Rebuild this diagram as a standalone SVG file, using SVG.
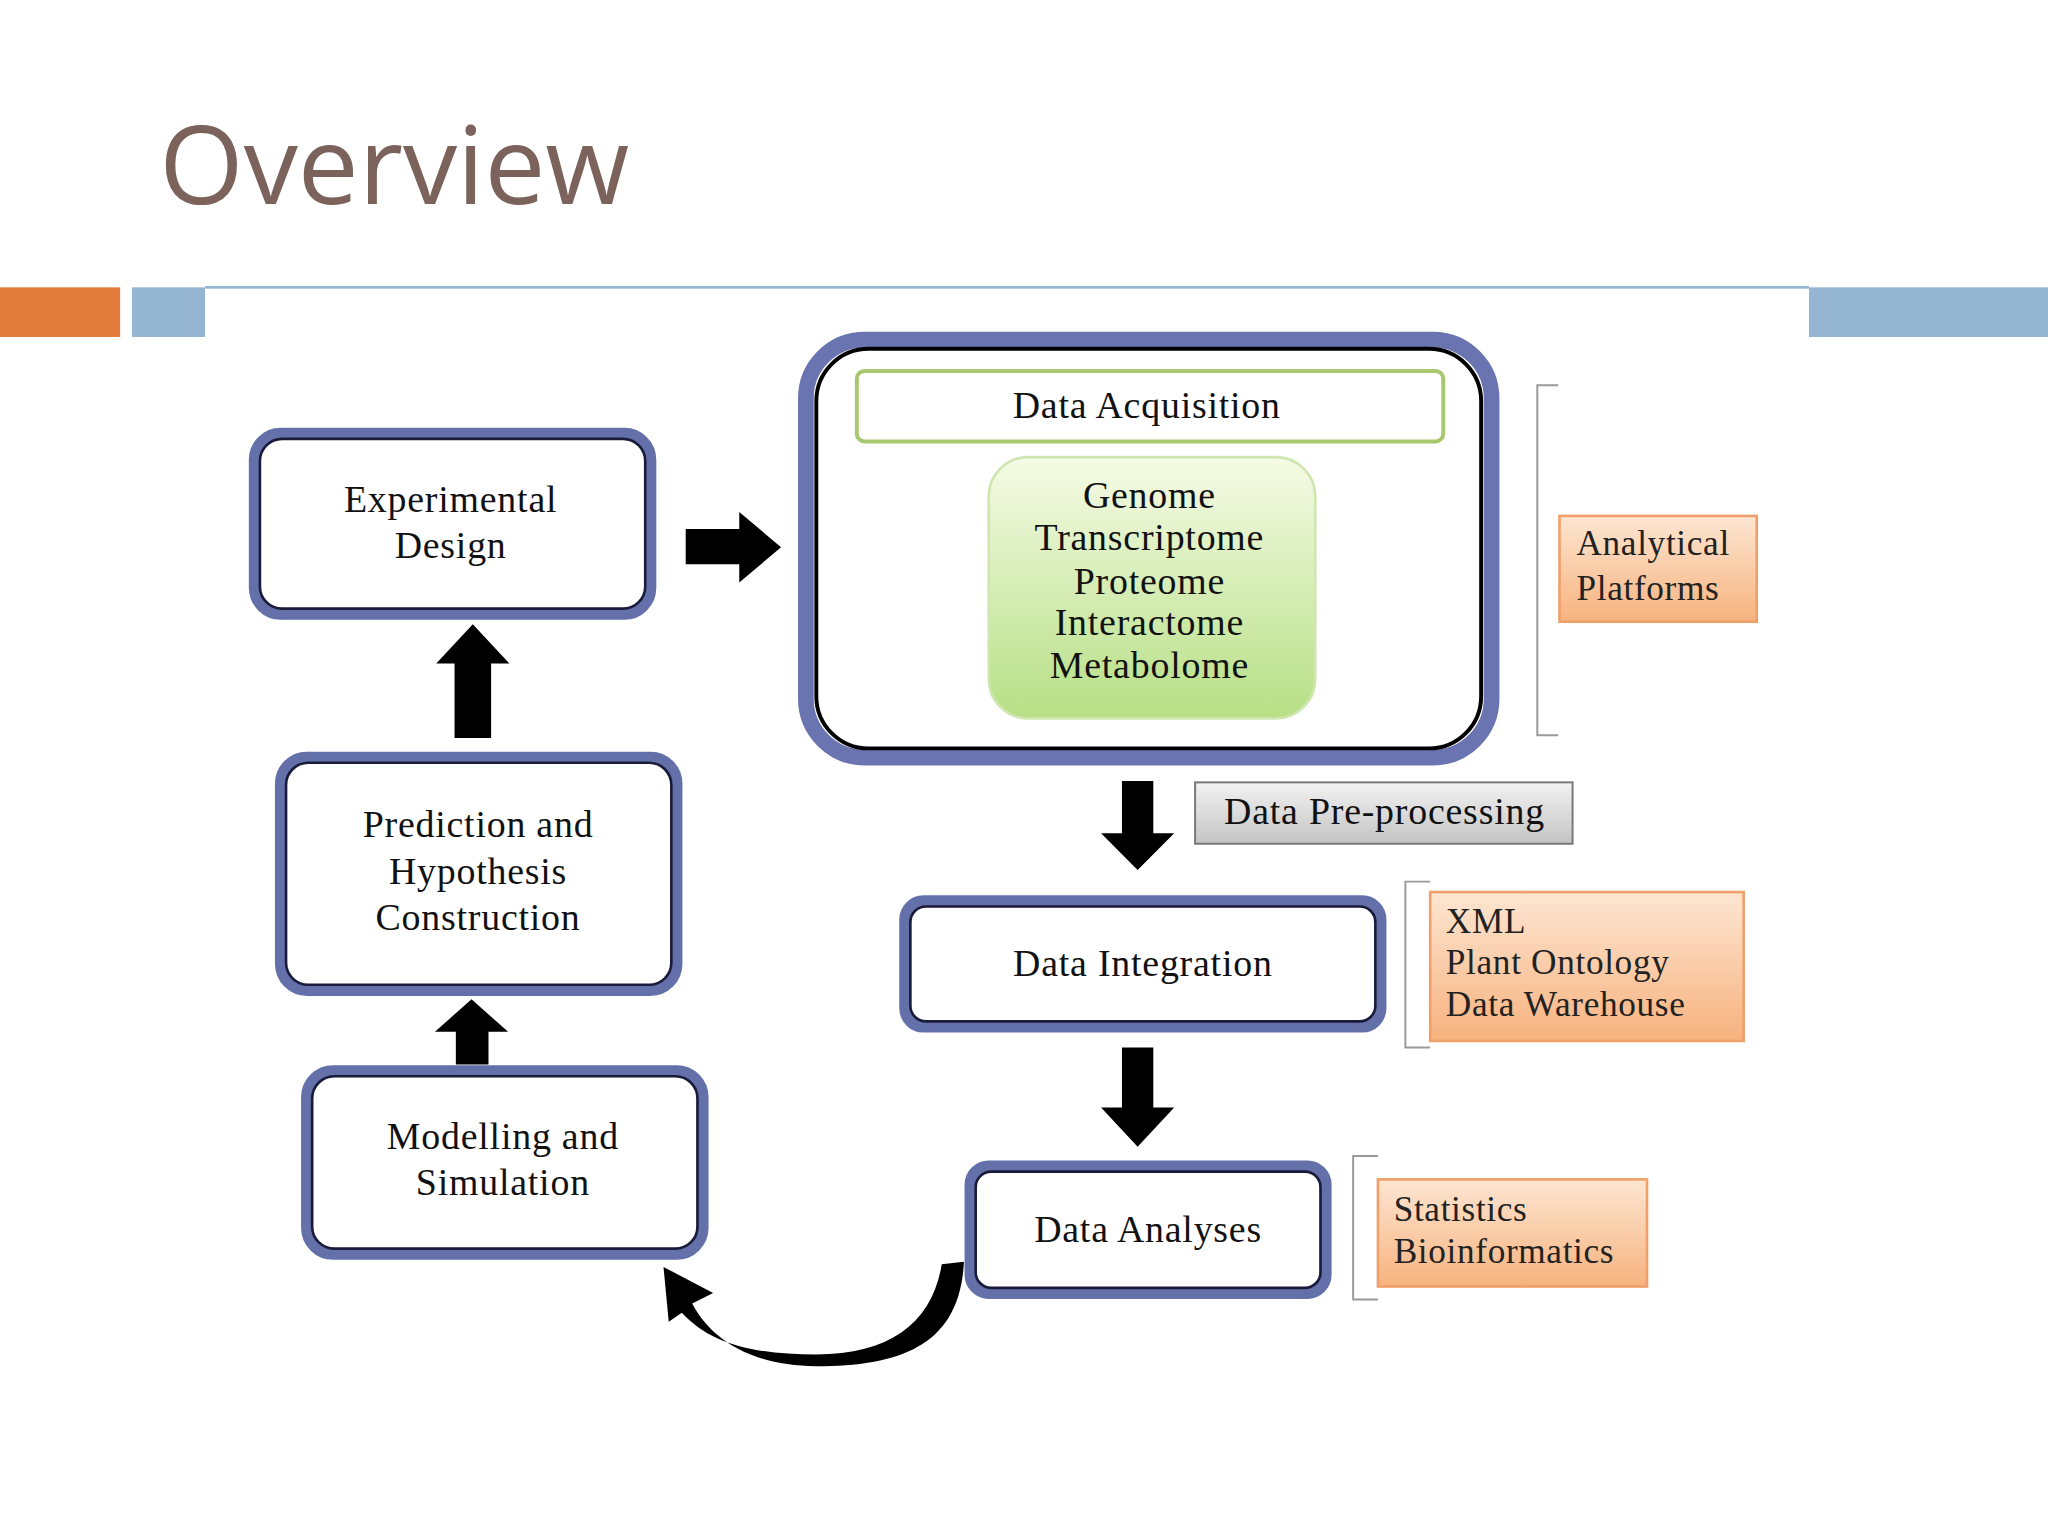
<svg xmlns="http://www.w3.org/2000/svg" width="2048" height="1536" viewBox="0 0 2048 1536">
<defs>
<linearGradient id="gg" x1="0" y1="0" x2="0" y2="1"><stop offset="0" stop-color="#f6fbe6"/><stop offset="1" stop-color="#b6df85"/></linearGradient>
<linearGradient id="og" x1="0" y1="0" x2="0" y2="1"><stop offset="0" stop-color="#fde6d2"/><stop offset="1" stop-color="#f7b27e"/></linearGradient>
<linearGradient id="gr" x1="0" y1="0" x2="0" y2="1"><stop offset="0" stop-color="#f2f2f2"/><stop offset="1" stop-color="#c4c4c4"/></linearGradient>
<style>
.t{font-family:"Liberation Serif",serif;font-size:29px;fill:#111;text-anchor:middle;letter-spacing:0.6px}
.l{font-family:"Liberation Serif",serif;font-size:27px;fill:#222;letter-spacing:0.5px}
.nb{fill:#fff;stroke:#6470aa;stroke-width:9}
.nbi{fill:none;stroke:#1a1a3a;stroke-width:2}
.ob{fill:url(#og);stroke:#efa06a;stroke-width:2}
.br{fill:none;stroke:#999;stroke-width:1.5}
</style>
</defs>
<rect width="2048" height="1536" fill="#fff"/>
<g transform="scale(1.30612)">
<g id="header">
<text x="122" y="156" font-family="Open Sans,sans-serif" font-size="83" fill="#7b625a">Overview</text>
<rect x="0" y="220" width="92" height="38" fill="#e07b3c"/>
<rect x="101" y="220" width="56" height="38" fill="#94b6d2"/>
<rect x="157" y="219" width="1228" height="2" fill="#94b6d2"/>
<rect x="1385" y="220" width="183" height="38" fill="#94b6d2"/>
</g>
<g id="exp"><rect class="nb" x="195" y="332" width="303" height="138" rx="20"/><rect class="nbi" x="199" y="336" width="295" height="130" rx="17"/>
<text class="t" x="345" y="392">Experimental</text><text class="t" x="345" y="427">Design</text></g>
<g id="acq"><rect x="617" y="260" width="525" height="320" rx="45" fill="#fff" stroke="#6a74b0" stroke-width="12"/><rect x="625" y="267" width="509" height="306" rx="40" fill="none" stroke="#000" stroke-width="3"/>
<rect x="656" y="284" width="449" height="54" rx="6" fill="#fff" stroke="#a8c870" stroke-width="3"/>
<text class="t" x="878" y="320">Data Acquisition</text>
<rect x="757" y="350" width="250" height="200" rx="30" fill="url(#gg)" stroke="#cfe6b0" stroke-width="2"/>
<text class="t" x="880" y="389" font-size="27">Genome</text><text class="t" x="880" y="421" font-size="27">Transcriptome</text><text class="t" x="880" y="455" font-size="27">Proteome</text><text class="t" x="880" y="486" font-size="27">Interactome</text><text class="t" x="880" y="519" font-size="27">Metabolome</text></g>
<g id="ap"><path class="br" d="M1193 295 H1177 V563 H1193"/><rect class="ob" x="1194" y="395" width="151" height="81"/>
<text class="l" x="1207" y="425">Analytical</text><text class="l" x="1207" y="459">Platforms</text></g>
<g id="pre"><rect x="915" y="599" width="289" height="47" fill="url(#gr)" stroke="#777" stroke-width="1.5"/><text class="t" x="1060" y="631" font-size="27">Data Pre-processing</text></g>
<g id="int"><rect class="nb" x="693" y="690" width="364" height="96" rx="14"/><rect class="nbi" x="697" y="694" width="356" height="88" rx="12"/><text class="t" x="875" y="747">Data Integration</text></g>
<g id="xml"><path class="br" d="M1095 675 H1076 V802 H1095"/><rect class="ob" x="1095" y="683" width="240" height="114"/>
<text class="l" x="1107" y="714">XML</text><text class="l" x="1107" y="746">Plant Ontology</text><text class="l" x="1107" y="778">Data Warehouse</text></g>
<g id="ana"><rect class="nb" x="743" y="893" width="272" height="97" rx="14"/><rect class="nbi" x="747" y="897" width="264" height="89" rx="12"/><text class="t" x="879" y="951">Data Analyses</text></g>
<g id="stat"><path class="br" d="M1055 885 H1036 V995 H1055"/><rect class="ob" x="1055" y="903" width="206" height="82"/>
<text class="l" x="1067" y="935">Statistics</text><text class="l" x="1067" y="967">Bioinformatics</text></g>
<g id="mod"><rect class="nb" x="235" y="820" width="303" height="140" rx="20"/><rect class="nbi" x="239" y="824" width="295" height="132" rx="17"/>
<text class="t" x="385" y="880">Modelling and</text><text class="t" x="385" y="915">Simulation</text></g>
<g id="pred"><rect class="nb" x="215" y="580" width="303" height="178" rx="20"/><rect class="nbi" x="219" y="584" width="295" height="170" rx="17"/>
<text class="t" x="366" y="641">Prediction and</text><text class="t" x="366" y="677">Hypothesis</text><text class="t" x="366" y="712">Construction</text></g>
<g id="connectors" fill="#000">
<polygon points="525,405 566,405 566,392 598,419 566,446 566,432 525,432"/>
<polygon points="859,598 883,598 883,638 899,638 871,666 843,638 859,638"/>
<polygon points="859,802 883,802 883,848 899,848 871,878 843,848 859,848"/>
<polygon points="348,565 376,565 376,508 390,508 362,478 334,508 348,508"/>
<polygon points="349,815 374,815 374,790 389,790 361,765 333,790 349,790"/>
<path d="M738,966 C735,1030 690,1046 625,1046 C572,1046 542,1022 530,998 L546,990 L508,970 L512,1012 L522,1005 C545,1030 580,1037 625,1037 C682,1037 714,1012 721,968 Z"/>
</g>
</g>
</svg>
